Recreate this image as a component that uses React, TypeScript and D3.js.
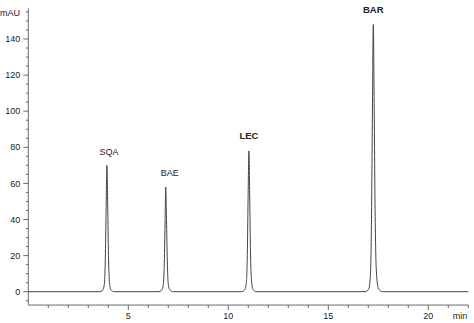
import React from "react";
import * as d3 from "d3";

// Chromatogram trace (time in min, absorbance in mAU)
const traceTime = [
  0, 3.55, 3.72, 3.8, 3.85, 3.89, 3.93, 3.97, 4.01, 4.06, 4.13, 4.3,
  6.5, 6.67, 6.75, 6.8, 6.84, 6.87, 6.91, 6.95, 7.0, 7.08, 7.25,
  10.65, 10.82, 10.9, 10.95, 10.99, 11.03, 11.07, 11.11, 11.16, 11.24, 11.4,
  16.85, 17.02, 17.1, 17.16, 17.21, 17.25, 17.29, 17.34, 17.4, 17.5, 17.7,
  22,
];
const traceMAU = [
  0, 0, 0.8, 4, 18, 45, 70, 48, 20, 5, 1, 0,
  0, 0.8, 4, 16, 40, 58, 40, 17, 4, 1, 0,
  0, 1, 5, 20, 52, 78, 53, 22, 6, 1.2, 0,
  0, 1.5, 8, 40, 105, 148, 108, 45, 12, 2, 0,
  0,
];

const peakNames = ["SQA", "BAE", "LEC", "BAR"];
const peakTimes = [3.93, 6.87, 11.03, 17.25];
const peakHeights = [70, 58, 78, 148];
const peakBold = [false, false, true, true];

const yTicks = [0, 20, 40, 60, 80, 100, 120, 140];
const xTicks = [5, 10, 15, 20];

export default function App() {
  const W = 474;
  const H = 323;
  const x = d3.scaleLinear().domain([0, 22]).range([28.3, 468.3]);
  const y = d3.scaleLinear().domain([0, 140]).range([291.7, 39]);
  const yMin = -7.4;
  const yMax = 157;

  const pts: [number, number][] = traceTime.map((t, i) => [t, traceMAU[i]]);
  const line = d3
    .line<[number, number]>()
    .x((d) => x(d[0]))
    .y((d) => y(d[1]))
    .curve(d3.curveMonotoneX);

  const yMinor = d3.range(-5, 156, 5).filter((v) => v % 20 !== 0);
  const xMinor = d3.range(1, 23, 1).filter((v) => v % 5 !== 0);

  const axisColor = "#6a6a6a";
  const textColor = "#222";
  const font = "Liberation Sans, Arial, sans-serif";

  return (
    <svg
      width={W}
      height={H}
      style={{ position: "absolute", left: 0, top: 0, background: "#fff" }}
      fontFamily={font}
    >
      {/* Y axis */}
      <line x1={x(0)} x2={x(0)} y1={y(yMin)} y2={y(yMax)} stroke={axisColor} strokeWidth={1} />
      {yTicks.map((v) => (
        <g key={"yt" + v}>
          <line x1={x(0) - 5} x2={x(0)} y1={y(v)} y2={y(v)} stroke={axisColor} />
          <text x={x(0) - 8} y={y(v)} dy="0.35em" textAnchor="end" fontSize={9} fill={textColor}>
            {v}
          </text>
        </g>
      ))}
      {yMinor.map((v) => (
        <line key={"ym" + v} x1={x(0) - 2.5} x2={x(0)} y1={y(v)} y2={y(v)} stroke={axisColor} />
      ))}
      <text x={0} y={y(yMax) + 5} dy="0.35em" fontSize={9} fill={textColor}>
        mAU
      </text>

      {/* X axis */}
      <line x1={x(0)} x2={x(22)} y1={y(yMin)} y2={y(yMin)} stroke={axisColor} strokeWidth={1} />
      {xTicks.map((v) => (
        <g key={"xt" + v}>
          <line x1={x(v)} x2={x(v)} y1={y(yMin)} y2={y(yMin) + 5} stroke={axisColor} />
          <text x={x(v)} y={y(yMin) + 11} dy="0.35em" textAnchor="middle" fontSize={9} fill={textColor}>
            {v}
          </text>
        </g>
      ))}
      {xMinor.map((v) => (
        <line key={"xm" + v} x1={x(v)} x2={x(v)} y1={y(yMin)} y2={y(yMin) + 3} stroke={axisColor} />
      ))}
      <text x={460} y={y(yMin) + 11} dy="0.35em" textAnchor="middle" fontSize={9} fill={textColor}>
        min
      </text>

      {/* Trace */}
      <path d={line(pts) || ""} fill="none" stroke="#444" strokeWidth={1} />

      {/* Peak labels */}
      {peakNames.map((n, i) => (
        <text
          key={n}
          x={x(peakTimes[i]) + (i === 1 ? 4 : i === 0 ? 2 : 0)}
          y={y(peakHeights[i]) - (peakBold[i] ? 15 : 14)}
          dy="0.35em"
          textAnchor="middle"
          fontSize={peakBold[i] ? 9.5 : 9}
          fontWeight={peakBold[i] ? "bold" : "normal"}
          fill={textColor}
        >
          {n}
        </text>
      ))}
    </svg>
  );
}
